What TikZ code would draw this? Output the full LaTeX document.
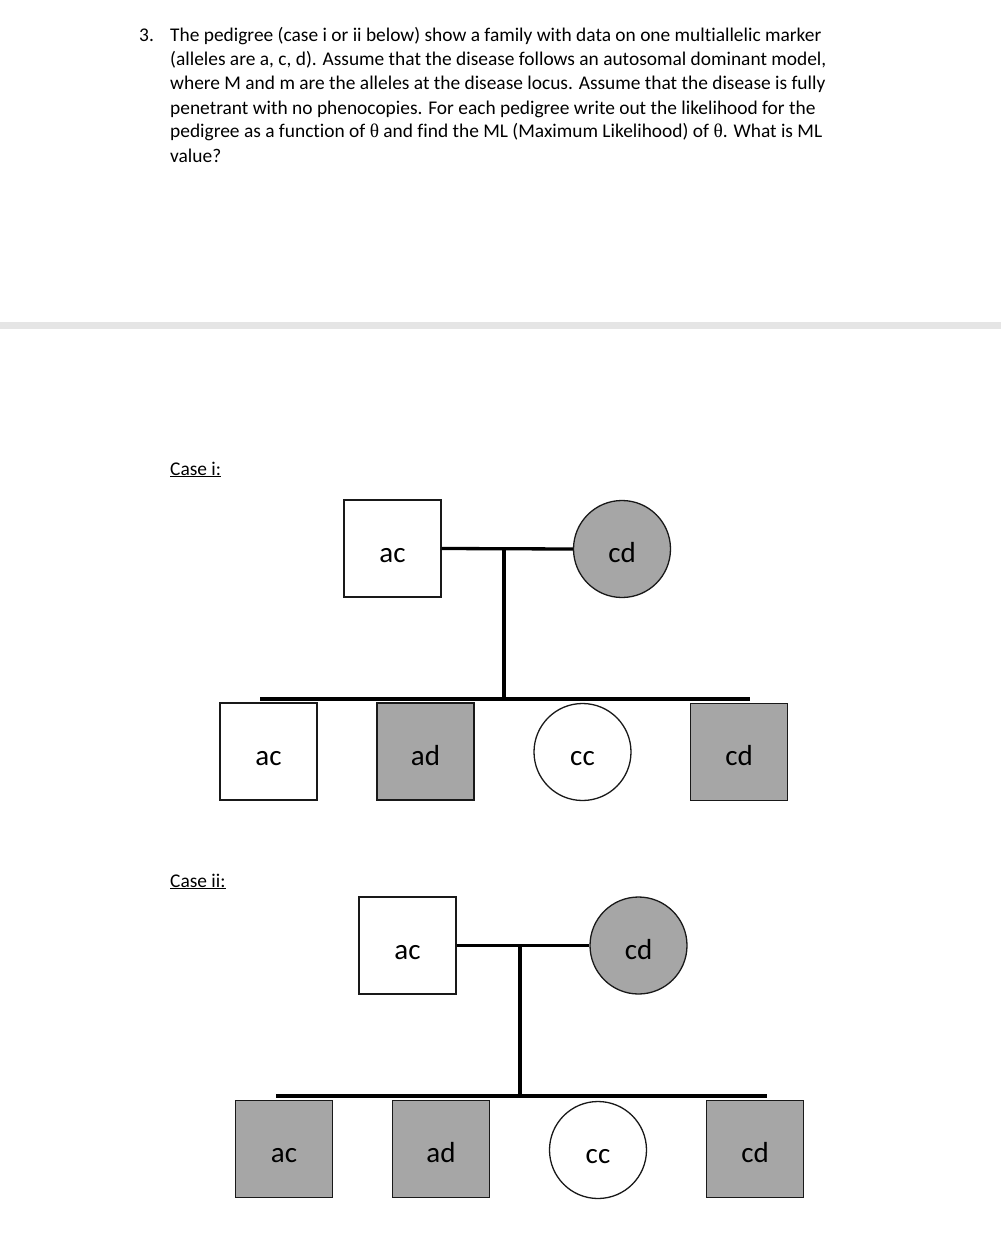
\documentclass[tikz,border=0pt]{standalone}
\usepackage{fontspec}
\setmainfont[Ligatures=NoCommon]{Carlito}
\newfontfamily\thetafont{Liberation Serif}
\newcommand{\thetaup}{{\thetafont θ}}
\begin{document}
\begin{tikzpicture}[x=1pt,y=-1pt,
  body/.style={font=\fontsize{19.4}{24}\selectfont, anchor=base west, inner sep=0pt},
  caselabel/.style={font=\fontsize{19.4}{24}\selectfont, anchor=base west, inner sep=0pt},
  person/.style={draw=black!90, line width=1.3pt, inner sep=0pt, minimum size=97pt,
                 font=\fontsize{29}{32}\selectfont, text height=27pt, text depth=0pt},
  male/.style={person, rectangle},
  female/.style={person, circle},
  affected/.style={fill=black!35},
  rel/.style={line width=3.3pt}
]
\useasboundingbox (0,0) rectangle (1001,1244);
% header text
\node[body] (num) at (139,42) {3.};
\node[body] (l1) at (170,42) {The pedigree (case i or ii below) show a family with data on one multiallelic marker};
\node[body] (l2) at (170,66) {(alleles are a, c, d). Assume that the disease follows an autosomal dominant model,};
\node[body] (l3) at (170,90) {where M and m are the alleles at the disease locus. Assume that the disease is fully};
\node[body] (l4) at (170,114) {penetrant with no phenocopies. For each pedigree write out the likelihood for the};
\node[body] (l5) at (170,138) {pedigree as a function of \thetaup{} and find the ML (Maximum Likelihood) of \thetaup. What is ML};
\node[body] (l6) at (170,162) {value?};
% separator bar
\fill[black!10] (0,322) rectangle (1001,329);
% Case i
\node[caselabel] (casei) at (170,475) {\underline{Case i:}};
\node[male] (f1) at (392.5,548.5) {ac};
\node[female, affected] (m1) at (622,549) {cd};
\node[male] (c11) at (268.5,751.5) {ac};
\node[male, affected] (c12) at (425.5,751.5) {ad};
\node[female] (c13) at (582.5,752) {cc};
\node[male, affected] (c14) at (739,752) {cd};
\coordinate (mid1) at (504,548.5);
\coordinate (sib1) at (504,699);
\coordinate (sibL1) at (260,699);
\coordinate (sibR1) at (750,699);
\draw[rel] (f1.east) -- (m1.west);
\draw[rel] (mid1) -- (sib1);
\draw[rel] (sibL1) -- (sibR1);
% Case ii
\node[caselabel] (caseii) at (170,887) {\underline{Case ii:}};
\node[male] (f2) at (407.5,945.5) {ac};
\node[female, affected] (m2) at (638.5,945.5) {cd};
\node[male, affected] (c21) at (284,1149) {ac};
\node[male, affected] (c22) at (441,1149) {ad};
\node[female] (c23) at (598,1150) {cc};
\node[male, affected] (c24) at (755,1149) {cd};
\coordinate (mid2) at (520,945.5);
\coordinate (sib2) at (520,1096);
\coordinate (sibL2) at (276,1096);
\coordinate (sibR2) at (767,1096);
\draw[rel] (f2.east) -- (m2.west);
\draw[rel] (mid2) -- (sib2);
\draw[rel] (sibL2) -- (sibR2);
\end{tikzpicture}
\end{document}
